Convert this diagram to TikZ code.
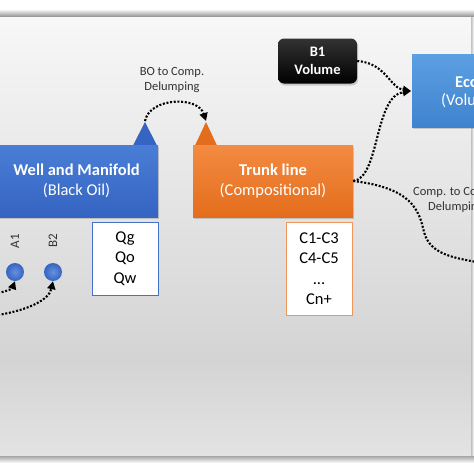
\documentclass[tikz,border=0pt]{standalone}
\usepackage{fontspec}
\setmainfont{Carlito}
\usetikzlibrary{arrows.meta,shadows}
\definecolor{bluetop}{HTML}{4A7ED6}
\definecolor{bluebot}{HTML}{3564C2}
\definecolor{orangetop}{HTML}{F38B40}
\definecolor{orangebot}{HTML}{E46D1D}
\definecolor{ecotop}{HTML}{5C9FE2}
\definecolor{ecobot}{HTML}{3F83CF}
\definecolor{blueline}{HTML}{4472C4}
\definecolor{orangeline}{HTML}{F0955A}
\definecolor{labelgray}{HTML}{333333}
\begin{document}
\begin{tikzpicture}[x=1pt,y=-1pt,
  boxshadow/.style={drop shadow={shadow xshift=1.2pt,shadow yshift=-2pt,opacity=.35}},
  bigbox/.style={rectangle,inner sep=0pt,align=center,text=white,boxshadow,
    font=\fontsize{16.5}{20}\selectfont},
  wellbox/.style={bigbox,top color=bluetop,bottom color=bluebot},
  trunkbox/.style={bigbox,top color=orangetop,bottom color=orangebot},
  ecobox/.style={bigbox,top color=ecotop,bottom color=ecobot},
  listbox/.style={rectangle,fill=white,inner sep=0pt,align=center,
    font=\fontsize{16.5}{20.5}\selectfont},
  volbox/.style={rectangle,rounded corners=6pt,top color=black!80,bottom color=black,
    text=white,align=center,inner sep=0pt,boxshadow,font=\bfseries\fontsize{14.5}{18}\selectfont},
  dotflow/.style={line width=2.1pt,dash pattern=on 2pt off 1.7pt,black,
    -{Triangle[length=8pt,width=8pt]}},
  dotline/.style={line width=2.1pt,dash pattern=on 2pt off 1.7pt,black},
  smalllabel/.style={text=labelgray,align=center,inner sep=0pt,font=\fontsize{12.5}{15}\selectfont},
  pointdot/.style={circle,minimum size=18pt,inner sep=0pt,shading=radial,
    inner color=bluetop!85!white,outer color=bluebot},
  pointlabel/.style={text=labelgray,rotate=90,inner sep=0pt,font=\fontsize{13}{15}\selectfont}
]
\useasboundingbox (0,0) rectangle (474,474);
\clip (0,0) rectangle (474,474);
% background panel
\fill[white] (0,0) rectangle (474,474);
\shade[top color=white,bottom color=black!45] (0,9) rectangle (474,17);
\shade[top color=black!40,bottom color=white] (0,455) rectangle (474,463);
\shade[left color=black!35,right color=white] (470,17) rectangle (474,455);
\shade[top color=black!3,bottom color=black!17] (-1,17) rectangle (471,360);
\shade[top color=black!17,bottom color=black!11] (-1,359.5) rectangle (471,455);

% triangles
\fill[bluebot] (133,145.5) -- (157,145.5) -- (145,122) -- cycle;
\fill[orangebot] (195,145.5) -- (217,145.5) -- (206,122) -- cycle;
\coordinate (bapex) at (145,121);
\coordinate (oapex) at (206,121);

% main boxes
\node[wellbox,minimum width=163pt,minimum height=72pt] (well) at (76.5,181)
  {\textbf{Well and Manifold}\\(Black Oil)};
\node[trunkbox,minimum width=160pt,minimum height=72pt] (trunk) at (273,181)
  {\textbf{Trunk line}\\(Compositional)};
\node[ecobox,minimum width=128pt,minimum height=73pt] (eco) at (476,90.5) {};
\node[anchor=west,inner sep=0pt,text=white,font=\bfseries\fontsize{16.5}{20}\selectfont] (ecot1) at (455,82) {Eco};
\node[anchor=west,inner sep=0pt,text=white,font=\fontsize{16.5}{20}\selectfont] (ecot2) at (441,101) {(Volu};

\node[volbox,minimum width=79pt,minimum height=45pt] (vol) at (317.5,61) {B1\\Volume};

% list boxes
\node[listbox,draw=blueline,line width=1pt,minimum width=66pt,minimum height=73pt] (qlist) at (125,258.5)
  {Qg\\Qo\\Qw};
\node[listbox,draw=orangeline,line width=1pt,minimum width=66pt,minimum height=93pt] (clist) at (319,268.5)
  {C1-C3\\C4-C5\\...\\Cn+};

% points
\node[pointdot] (a1) at (15,272) {};
\node[pointdot] (b2) at (53,272) {};
\node[pointlabel] (a1l) at (15,241) {A1};
\node[pointlabel] (b2l) at (53,241) {B2};
\coordinate (a1src) at (-2,293);
\coordinate (b2src) at (-2,315);
\draw[dotflow] (a1src) .. controls (7,291) and (12,289) .. (a1.south);
\draw[dotflow] (b2src) .. controls (28,310) and (49,300) .. (b2.south);

% labels
\node[smalllabel] (bolabel) at (172,80) {BO to Comp.\\Delumping};
\node[smalllabel,anchor=west] (cclabel1) at (413,192) {Comp. to Co};
\node[smalllabel,anchor=west] (cclabel2) at (428,207) {Delumpin};

% flows
\draw[dotflow] (bapex) .. controls (150,97) and (198,96) .. (oapex);
\coordinate (ecoin) at (411,91);
\draw[dotflow] (vol.east) .. controls (386,63) and (390,88) .. (ecoin);
\draw[dotflow] (trunk.east) .. controls (380,178) and (374,96) .. (ecoin);
\coordinate (ccend) at (482,263);
\draw[dotline] (trunk.east) .. controls (412,188) and (419,210) .. (424,232)
  .. controls (430,255) and (455,258) .. (ccend);
\end{tikzpicture}
\end{document}
